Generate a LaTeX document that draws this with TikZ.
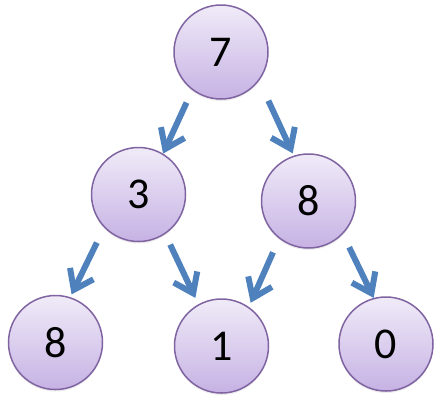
\documentclass[tikz,border=0pt]{standalone}
\usepackage{fontspec}
\setmainfont{Carlito}
\usetikzlibrary{arrows.meta, shadows}

\definecolor{nodeline}{RGB}{128,100,162}
\definecolor{nodetop}{RGB}{240,235,248}
\definecolor{nodebottom}{RGB}{198,178,228}
\definecolor{edgeblue}{RGB}{79,129,189}

\begin{document}
\begin{tikzpicture}[
                x=1pt, y=-1pt,
                vertex/.style={circle, draw=nodeline, line width=1.5pt, minimum size=94pt, inner sep=0pt,
                    top color=nodetop, bottom color=nodebottom, font=\fontsize{44}{48}\selectfont,
                    drop shadow={shadow xshift=0pt, shadow yshift=-2pt, opacity=0.15}},
                edge/.style={-{Straight Barb[length=18pt, width=26pt, sharp]}, line width=6pt, draw=edgeblue}
            ]
                \useasboundingbox (0,0) rectangle (443,405);

                % 定义节点
                \foreach \name/\x/\y/\val in {n7/221/52/7, n3/138.5/194.5/3, n8/308.5/201/8,
                                              n8b/55.5/342.5/8, n1/221.5/346/1, n0/386/344/0} {
                    \node[vertex] (\name) at (\x, \y) {\val};
                }

                % 第一层的边
                \draw[edge, shorten <=13.7pt] (n7.233) -- (n3.59);
                \draw[edge, shorten <=22pt, shorten >=2.5pt] (n7.323) -- (n8.108);

                % 第二层的边
                \draw[edge, shorten <=16.6pt, shorten >=3pt] (n3.224) -- (n8b.72);
                \draw[edge, shorten <=11.6pt, shorten >=7pt] (n3.304) -- (n1.119);
                \draw[edge, shorten <=15pt, shorten >=4.5pt] (n8.232) -- (n1.55);
                \draw[edge, shorten <=14.5pt] (n8.316) -- (n0.105);

            \end{tikzpicture}
\end{document}
